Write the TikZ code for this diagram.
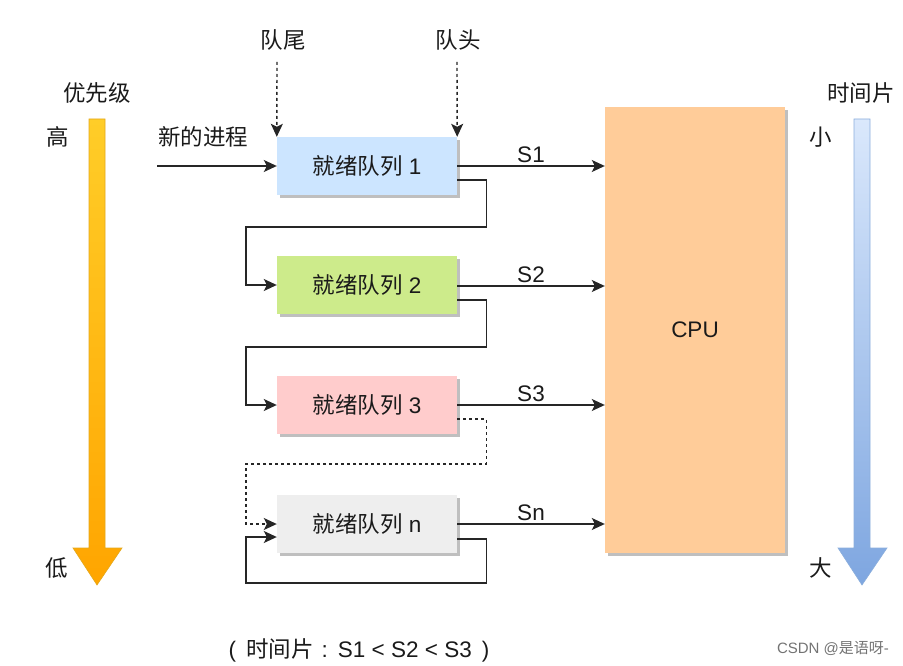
\documentclass[tikz,border=0pt]{standalone}
\usepackage{fontspec}
\setmainfont{Liberation Sans}
\newfontfamily\cjk{Noto Sans CJK SC}
\usetikzlibrary{arrows.meta,shadows}
\definecolor{qone}{HTML}{CCE5FF}
\definecolor{qtwo}{HTML}{CDEB8B}
\definecolor{qthree}{HTML}{FFCCCC}
\definecolor{qn}{HTML}{EEEEEE}
\definecolor{cpufill}{HTML}{FFCC99}
\definecolor{ytop}{HTML}{FFCD28}
\definecolor{ybot}{HTML}{FFA500}
\definecolor{yline}{HTML}{E3A81C}
\definecolor{btop}{HTML}{DAE8FC}
\definecolor{bbot}{HTML}{7EA6E0}
\definecolor{bline}{HTML}{8BAEDC}
\definecolor{txt}{HTML}{1A1A1A}
\tikzset{
  x=1pt,y=-1pt,
  every node/.style={font=\fontsize{22.5}{25}\selectfont, text=txt},
  queue/.style={minimum width=180pt, minimum height=58pt, inner sep=0pt,
    drop shadow={shadow xshift=3pt, shadow yshift=-3pt, fill=black!25, opacity=1}},
  tip/.style={-{Stealth[length=13pt,width=12pt,inset=3pt]}},
  conn/.style={tip, line width=1.4pt, draw=black!85},
  lab/.style={inner sep=0pt, anchor=center},
}
\begin{document}
\begin{tikzpicture}
\useasboundingbox (0,0) rectangle (903,666);

% left priority arrow
\shade[top color=ytop, bottom color=ybot, draw=yline, line width=0.6pt]
  (89,119) -- (105,119) -- (105,548) -- (122,548) -- (97,585) -- (73,548) -- (89,548) -- cycle;
\node[lab] (prio) at (97,93) {\cjk 优先级};
\node[lab] (hi) at (58,137) {\cjk 高};
\node[lab] (lo) at (57,568) {\cjk 低};

% right time slice arrow
\shade[top color=btop, bottom color=bbot, draw=bline, line width=0.6pt]
  (854,119) -- (870,119) -- (870,548) -- (887,548) -- (862,585) -- (838,548) -- (854,548) -- cycle;
\node[lab] (ts) at (861,93) {\cjk 时间片};
\node[lab] (small) at (821,137) {\cjk 小};
\node[lab] (big) at (821,568) {\cjk 大};

% CPU
\node[queue, fill=cpufill, minimum width=180pt, minimum height=446pt] (cpu) at (695,330) {CPU};

% queues
\node[queue, fill=qone] (q1) at (367,166) {{\cjk 就绪队列} 1};
\node[queue, fill=qtwo] (q2) at (367,285) {{\cjk 就绪队列} 2};
\node[queue, fill=qthree] (q3) at (367,405) {{\cjk 就绪队列} 3};
\node[queue, fill=qn] (qn) at (367,524) {{\cjk 就绪队列} n};

% top labels
\node[lab] (tail) at (283,40) {\cjk 队尾};
\node[lab] (head) at (458,40) {\cjk 队头};
\coordinate (tailp) at (277,62);
\coordinate (headp) at (457,62);
\draw[conn, dashed] (tailp) -- (q1.north west);
\draw[conn, dashed] (headp) -- (q1.north east);

% new process
\node[lab] (newp) at (203,137) {\cjk 新的进程};
\coordinate (newin) at (157,166);
\draw[conn] (newin) -- (q1.west);

% to CPU
\draw[conn] (q1.east) -- node[above=3pt, inner sep=0pt] (s1) {S1} (q1.east -| cpu.west);
\draw[conn] ([yshift=-1pt]q2.east) -- node[above=3pt, inner sep=0pt] (s2) {S2} ([yshift=-1pt]q2.east -| cpu.west);
\draw[conn] (q3.east) -- node[above=3pt, inner sep=0pt] (s3) {S3} (q3.east -| cpu.west);
\draw[conn] (qn.east) -- node[above=3pt, inner sep=0pt] (sn) {Sn} (qn.east -| cpu.west);

% links between queues
\draw[conn] ([yshift=-14pt]q1.east) -- ++(29,0) |- (246,227) |- (q2.west);
\draw[conn] ([yshift=-15pt]q2.east) -- ++(29,0) |- (246,347) |- (q3.west);
\draw[conn, dashed] ([yshift=-14pt]q3.east) -- ++(29,0) |- (246,464) |- (qn.west);
\draw[conn] ([yshift=-15pt]qn.east) -- ++(29,0) |- (246,583) |- ([yshift=-13pt]qn.west);

% bottom note
\node[lab] (note) at (359,650) {(\hspace{10pt}{\cjk 时间片}\hspace{8pt}:\hspace{10pt}S1 < S2 < S3\hspace{10pt})};
\node[lab, text=black!55, font=\fontsize{15}{17}\selectfont] (wm) at (833,648) {CSDN @{\cjk 是语呀}-};
\end{tikzpicture}
\end{document}
